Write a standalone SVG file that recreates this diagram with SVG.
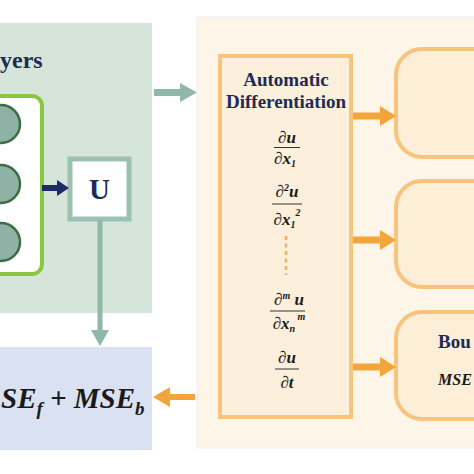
<svg xmlns="http://www.w3.org/2000/svg" width="474" height="474" viewBox="0 0 474 474">
<defs>
<style>
.ttl{font-family:"Liberation Serif","DejaVu Serif",serif;font-weight:bold;fill:#1f2b57}
.mth{font-family:"Liberation Serif","DejaVu Serif",serif;font-weight:bold;font-style:italic;fill:#1a1a1a}
.frl{stroke:#333;stroke-width:1}
.obox{fill:#fdeed8;stroke:#f6c47f;stroke-width:4}
.oarr{fill:#f4a53a}
.circ{fill:#8fb2a6;stroke:#3e6d42;stroke-width:2.5}
</style>
</defs>
<rect width="474" height="474" fill="#ffffff"/>
<g id="hidden-panel">
<rect x="-5" y="23" width="157" height="290" fill="#d6e5da"/>
<text class="ttl" x="0" y="68" font-size="24">yers</text>
</g>
<g id="neurons">
<rect x="-30" y="96" width="72" height="178" rx="10" fill="#ffffff" stroke="#8cc541" stroke-width="4"/>
<circle class="circ" cx="1" cy="124" r="19"/>
<circle class="circ" cx="1" cy="184" r="19"/>
<circle class="circ" cx="1" cy="242" r="19"/>
</g>
<g id="U">
<rect x="70" y="159" width="59" height="60" fill="#ffffff" stroke="#9cc0b2" stroke-width="5"/>
<text class="ttl" x="99.5" y="199" font-size="29" text-anchor="middle">U</text>
</g>
<g id="loss">
<rect x="-5" y="347" width="157" height="103" fill="#d9e1f2"/>
<text class="mth" x="1" y="408" font-size="29">SE<tspan font-size="19" dy="7">f</tspan><tspan font-size="29" dy="-7"> + MSE</tspan><tspan font-size="19" dy="7">b</tspan></text>
</g>
<g id="pde-panel">
<rect x="197" y="17" width="290" height="431" fill="#fdf5e8" stroke="#eef0f3" stroke-width="1"/>
</g>
<g id="autodiff">
<rect x="220" y="56" width="131" height="361" fill="#fcefdc" stroke="#f6c47f" stroke-width="4"/>
<text class="ttl" x="286" y="86" font-size="19" text-anchor="middle">Automatic</text>
<text class="ttl" x="286" y="108" font-size="19" text-anchor="middle">Differentiation</text>
<text class="mth" x="287" y="143" font-size="17" text-anchor="middle">∂u</text>
<line class="frl" x1="274" y1="147.5" x2="300" y2="147.5"/>
<text class="mth" x="285" y="164" font-size="17" text-anchor="middle">∂x<tspan font-size="10" dy="3">1</tspan></text>
<text class="mth" x="287" y="197" font-size="17" text-anchor="middle">∂<tspan font-size="10" dy="-6">2</tspan><tspan dy="6">u</tspan></text>
<line class="frl" x1="272" y1="204" x2="302" y2="204"/>
<text class="mth" x="287" y="225" font-size="17" text-anchor="middle">∂x<tspan font-size="10" dy="3">1</tspan><tspan font-size="10" dy="-12">2</tspan></text>
<line x1="286" y1="236" x2="286" y2="275" stroke="#f0b25a" stroke-width="2.5" stroke-dasharray="4,3.5"/>
<text class="mth" x="289" y="305" font-size="17" text-anchor="middle">∂<tspan font-size="10" dy="-6">m</tspan><tspan dy="6"> u</tspan></text>
<line class="frl" x1="270" y1="311" x2="305" y2="311"/>
<text class="mth" x="289" y="329" font-size="17" text-anchor="middle">∂x<tspan font-size="10" dy="3">n</tspan><tspan font-size="10" dy="-12"> m</tspan></text>
<text class="mth" x="287" y="363" font-size="17" text-anchor="middle">∂u</text>
<line class="frl" x1="275" y1="369" x2="299" y2="369"/>
<text class="mth" x="287" y="388" font-size="17" text-anchor="middle">∂t</text>
</g>
<g id="box1"><rect class="obox" x="396" y="49" width="110" height="108" rx="26"/></g>
<g id="box2"><rect class="obox" x="396" y="181" width="110" height="106" rx="26"/></g>
<g id="box3">
<rect class="obox" x="396" y="312" width="110" height="107" rx="26"/>
<text class="ttl" x="438" y="348" font-size="19">Bou</text>
<text class="mth" x="438" y="385" font-size="16">MSE</text>
</g>
<g id="connectors">
<path d="M42,185 H57 V180 L69,188 L57,196 V191 H42 Z" fill="#1f2b66"/>
<path d="M154,89 H180 V83 L197,92.5 L180,102 V96 H154 Z" fill="#8fb8a8"/>
<path d="M97.5,220 V330 H91 L100,346 L109,330 H102.5 V220 Z" fill="#8fb8a8"/>
<path d="M353,112.5 H380 V106 L396,116 L380,126 V119.5 H353 Z" class="oarr"/>
<path d="M353,236.5 H380 V230 L396,240 L380,250 V243.5 H353 Z" class="oarr"/>
<path d="M353,363.5 H380 V357 L396,367 L380,377 V370.5 H353 Z" class="oarr"/>
<path d="M195,394 H170 V387 L153,397 L170,407 V400 H195 Z" class="oarr"/>
</g>
</svg>
